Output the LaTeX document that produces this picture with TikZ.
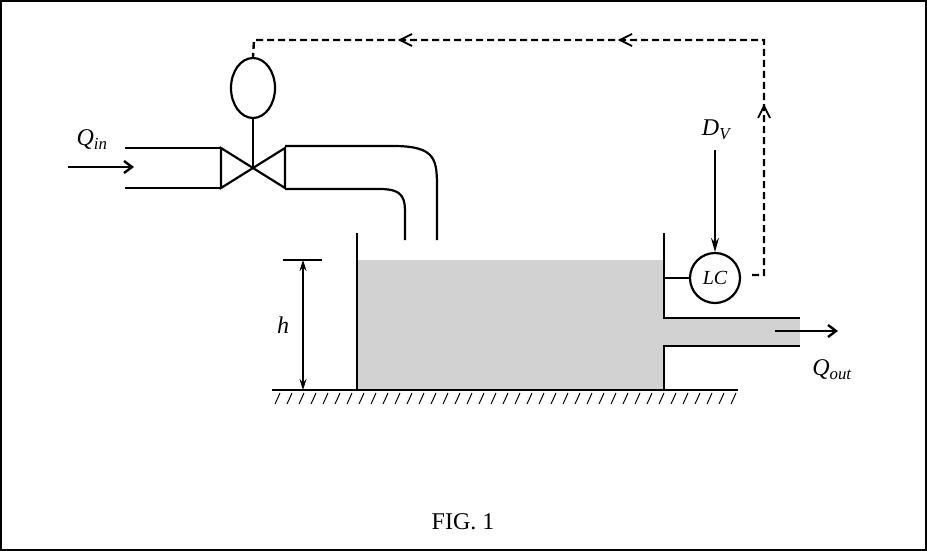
\documentclass[tikz,border=0pt]{standalone}
\usepackage{fontspec}
\setmainfont{Liberation Serif}
\usetikzlibrary{arrows.meta,shapes.geometric}
\begin{document}
\begin{tikzpicture}[x=1pt,y=-1pt,
  pipe/.style={line width=2.2pt},
  sig/.style={line width=2.4pt,dash pattern=on 7pt off 4pt},
  flow/.style={line width=2.4pt,-{Straight Barb[length=8pt,width=12pt]}},
  lbl/.style={font=\itshape\fontsize{24}{26}\selectfont}]
\useasboundingbox (0,0) rectangle (927,551);
\draw[line width=2.5pt] (1,1) rectangle (926,550);
% liquid
\fill[gray!35] (357,260) rectangle (664,390);
\fill[gray!35] (664,318) rectangle (800,346);
% ground
\draw[pipe] (272,390) -- (738,390);
\foreach \x in {280,292,...,736} \draw[line width=1pt] (\x,393) -- (\x-5,404);
% tank
\draw[pipe] (357,233) -- (357,390);
\draw[pipe] (664,233) -- (664,318) -- (800,318);
\draw[pipe] (664,390) -- (664,346) -- (800,346);
% h
\draw[line width=1.3pt] (283,260) -- (322,260);
\draw[line width=1.3pt,{Stealth[length=11pt,width=7pt]}-{Stealth[length=11pt,width=7pt]}] (303,260) -- (303,390);
\node[lbl] (h) at (283,325) {h};
% inlet
\draw[pipe] (125,148) -- (221,148);
\draw[pipe] (125,188) -- (221,188);
\node[lbl] (qin) at (92,140) {Q\textsubscript{in}};
\coordinate (qa) at (68,167); \coordinate (qb) at (134,167);
\draw[flow] (qa) -- (qb);
% valve
\draw[pipe] (221,148) -- (221,188) -- (285,148) -- (285,188) -- cycle;
\node[draw,ellipse,line width=2.2pt,minimum width=44pt,minimum height=60pt,inner sep=0] (act) at (253,88) {};
\coordinate (vc) at (253,167);
\draw[pipe] (act.south) -- (vc);
% outlet bend
\draw[pipe] (285,146) -- (393,146) .. controls (437,146) and (437,160) .. (437,190) -- (437,240);
\draw[pipe] (285,189) -- (380,189) .. controls (405,189) and (405,200) .. (405,215) -- (405,240);
% LC
\node[draw,circle,line width=2.2pt,minimum size=50pt,inner sep=0,font=\itshape\fontsize{20}{22}\selectfont] (lc) at (715,278) {LC};
\coordinate (wall) at (664,278);
\draw[pipe] (wall) -- (lc.west);
\node[lbl] (dv) at (716,130) {D\textsubscript{V}};
\coordinate (dvs) at (715,150);
\draw[line width=1.4pt,-{Stealth[length=14pt,width=8pt]}] (dvs) -- (lc.north);
% signal
\coordinate (s0) at (752,275); \coordinate (s1) at (764,275); \coordinate (s2) at (764,40); \coordinate (s3) at (254,40);
\draw[sig] (s0) -- (s1) -- (s2) -- (s3) -- (act.north);
\draw[line width=1.8pt] (412,34) -- (400,40) -- (412,46);
\draw[line width=1.8pt] (632,34) -- (620,40) -- (632,46);
\draw[line width=1.8pt] (758,118) -- (764,106) -- (770,118);
% outflow
\node[lbl] (qout) at (832,370) {Q\textsubscript{out}};
\coordinate (oa) at (775,331); \coordinate (ob) at (838,331);
\draw[flow] (oa) -- (ob);
\node[font=\fontsize{24}{26}\selectfont] (fig) at (463,522) {FIG. 1};
\end{tikzpicture}
\end{document}
